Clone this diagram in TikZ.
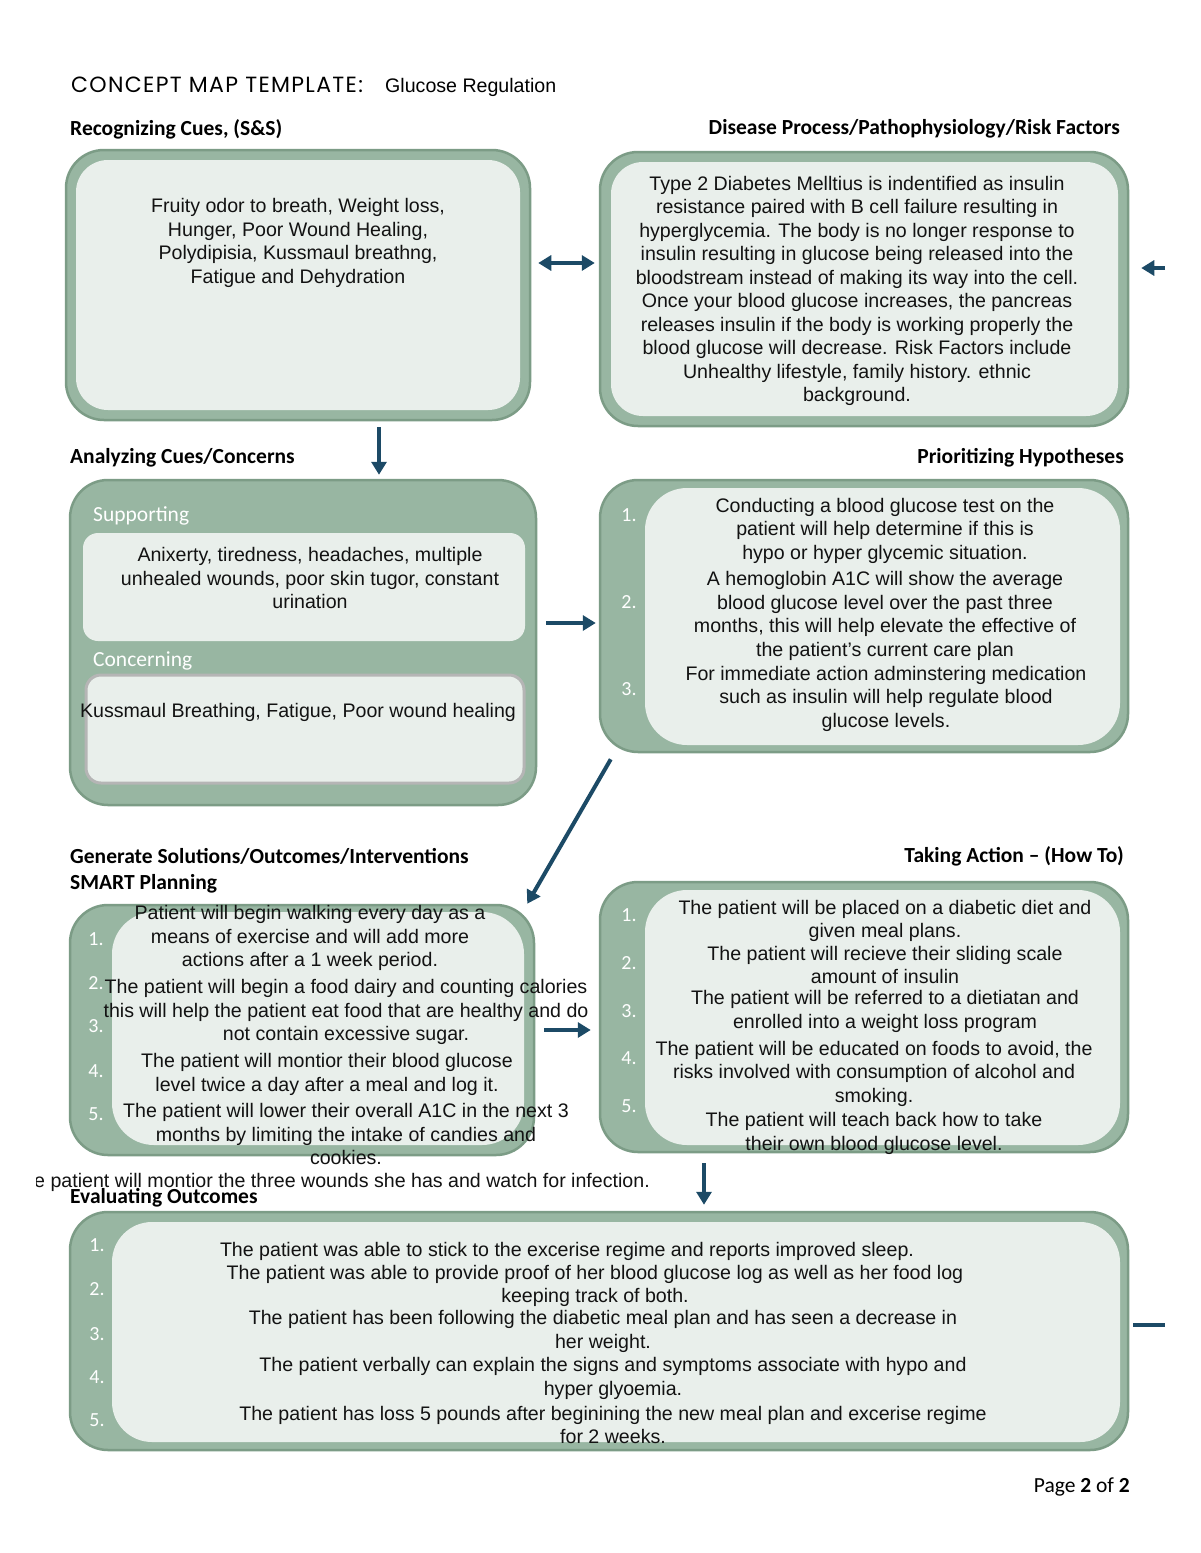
\documentclass[tikz,border=0pt]{standalone}
\usepackage{fontspec}
\setmainfont{Liberation Sans}
\newfontfamily\headfont{Carlito}
\newfontfamily\titlefont[LetterSpace=6]{Poppins}
\usetikzlibrary{arrows.meta}
\definecolor{boxgreen}{HTML}{98B6A2}
\definecolor{boxedge}{HTML}{7C9C86}
\definecolor{boxlight}{HTML}{E9EFEB}
\definecolor{greyedge}{HTML}{B5B5B5}
\definecolor{arrowblue}{HTML}{1C4A66}

\begin{document}
\begin{tikzpicture}[x=1pt,y=-1pt,
    outerbox/.style={draw=boxedge,line width=2.5pt,fill=boxgreen,rounded corners=38pt,inner sep=0pt},
    innerbox/.style={fill=boxlight,rounded corners=32pt,inner sep=0pt},
    panel/.style={fill=boxlight,rounded corners=15pt,inner sep=0pt},
    bodytext/.style={font=\fontsize{19.6}{23.5}\selectfont,align=center,inner sep=0pt,text=black!93},
    headtxt/.style={font=\headfont\bfseries\fontsize{21.5}{24}\selectfont,inner sep=0pt},
    labeltxt/.style={font=\headfont\fontsize{21.5}{24}\selectfont,text=white,inner sep=0pt,anchor=west},
    numtxt/.style={font=\headfont\fontsize{20}{22}\selectfont,text=white,inner sep=0pt},
    link/.style={draw=arrowblue,line width=4pt,-{Triangle[length=13pt,width=15pt]}}]
    \path[fill=white] (0,0) rectangle (1200,1553);
    \useasboundingbox (0,0) rectangle (1200,1553);

    % Title
    \node[font=\titlefont\fontsize{22}{26}\selectfont,anchor=west,inner sep=0pt] (title) at (71,85) {CONCEPT MAP TEMPLATE:};
    \node[font=\fontsize{19.6}{23.5}\selectfont,anchor=west,inner sep=0pt] (topic) at (385,87) {Glucose Regulation};

    % Headings
    \node[headtxt,anchor=west] (h1) at (70,129) {Recognizing Cues, (S\&S)};
    \node[headtxt,anchor=east] (h2) at (1120,129) {Disease Process/Pathophysiology/Risk Factors};
    \node[headtxt,anchor=west] (h3) at (70,458) {Analyzing Cues/Concerns};
    \node[headtxt,anchor=east] (h4) at (1124,458) {Prioritizing Hypotheses};
    \node[headtxt,anchor=west] (h5) at (70,856) {Generate Solutions/Outcomes/Interventions};
    \node[headtxt,anchor=west] (h5b) at (70,884) {SMART Planning};
    \node[headtxt,anchor=east] (h6) at (1124,856) {Taking Action \textendash{} (How To)};

    % Recognizing cues
    \node[outerbox,minimum width=464,minimum height=270] (recog) at (298,285) {};
    \node[innerbox,minimum width=444,minimum height=250] (recogin) at (298,285) {};
    \node[bodytext] (recogtxt) at (298,243) {Fruity odor to breath, Weight loss,\\ Hunger, Poor Wound Healing,\\ Polydipisia, Kussmaul breathng,\\ Fatigue and Dehydration};

    % Disease process
    \node[outerbox,minimum width=528,minimum height=274] (disease) at (864,289) {};
    \node[innerbox,minimum width=507,minimum height=254] (diseasein) at (864.5,289) {};
    \node[bodytext] (diseasetxt) at (857,291) {Type 2 Diabetes Melltius is indentified as insulin\\ resistance paired with B cell failure resulting in\\ hyperglycemia. The body is no longer response to\\ insulin resulting in glucose being released into the\\ bloodstream instead of making its way into the cell.\\ Once your blood glucose increases, the pancreas\\ releases insulin if the body is working properly the\\ blood glucose will decrease. Risk Factors include\\ Unhealthy lifestyle, family history. ethnic\\ background.};

    % Analyzing cues
    \node[outerbox,minimum width=466,minimum height=325] (analyze) at (303,642.5) {};
    \node[labeltxt] (suplabel) at (93,516) {Supporting};
    \node[panel,minimum width=442,minimum height=108] (support) at (304,587) {};
    \node[bodytext] (suptxt) at (310,578) {Anixerty, tiredness, headaches, multiple\\ unhealed wounds, poor skin tugor, constant\\ urination};
    \node[labeltxt] (conlabel) at (93,661) {Concerning};
    \node[panel,draw=greyedge,line width=3pt,minimum width=438,minimum height=108] (concern) at (305,729) {};
    \node[bodytext] (contxt) at (298,712) {Kussmaul Breathing, Fatigue, Poor wound healing};

    % Prioritizing hypotheses
    \node[outerbox,minimum width=528,minimum height=272] (hyp) at (864,616) {};
    \node[innerbox,rounded corners=42pt,minimum width=475,minimum height=257] (hypin) at (882.5,616.5) {};
    \foreach \n/\y in {1/515,2/602,3/689}
        \node[numtxt] (hypnum\n) at (629,\y) {\n.};
    \node[bodytext] (hyp1) at (885,530.5) {Conducting a blood glucose test on the\\ patient will help determine if this is\\ hypo or hyper glycemic situation.};
    \node[bodytext] (hyp2) at (885,616) {A hemoglobin A1C will show the average\\ blood glucose level over the past three\\ months, this will help elevate the effective of\\ the patient's current care plan};
    \node[bodytext] (hyp3) at (886,698.5) {For immediate action adminstering medication\\ such as insulin will help regulate blood\\ glucose levels.};

    % SMART planning
    \node[outerbox,minimum width=464,minimum height=250] (smart) at (302,1030) {};
    \node[innerbox,rounded corners=42pt,minimum width=412,minimum height=233] (smartin) at (318,1028.5) {};
    \foreach \n/\y in {1/939,2/983,3/1026,4/1071,5/1114}
        \node[numtxt] (plannum\n) at (96,\y) {\n.};
    \node[bodytext] (plan1) at (310,938) {Patient will begin walking every day as a\\ means of exercise and will add more\\ actions after a 1 week period.};
    \node[bodytext] (plan2) at (346,1012) {The patient will begin a food dairy and counting calories\\ this will help the patient eat food that are healthy and do\\ not contain excessive sugar.};
    \node[bodytext] (plan3) at (327,1074.5) {The patient will montior their blood glucose\\ level twice a day after a meal and log it.};
    \node[bodytext] (plan4) at (346,1134) {The patient will lower their overall A1C in the next 3\\ months by limiting the intake of candies and\\ cookies.};
    \begin{scope}
        \clip (36,1168) rectangle (700,1198);
        \node[bodytext,anchor=east] (plan5) at (650,1182) {The patient will montior the three wounds she has and watch for infection.};
    \end{scope}

    % Taking action
    \node[outerbox,minimum width=528,minimum height=270] (action) at (864,1017) {};
    \node[innerbox,rounded corners=42pt,minimum width=475,minimum height=255] (actionin) at (882.5,1017.5) {};
    \foreach \n/\y in {1/915,2/963,3/1011,4/1058,5/1106}
        \node[numtxt] (actnum\n) at (629,\y) {\n.};
    \node[bodytext] (act1) at (885,921) {The patient will be placed on a diabetic diet and\\ given meal plans.};
    \node[bodytext] (act2) at (885,965) {The patient will recieve their sliding scale\\ amount of insulin};
    \node[bodytext] (act3) at (885,1011.5) {The patient will be referred to a dietiatan and\\ enrolled into a weight loss program};
    \node[bodytext] (act4) at (874,1073.5) {The patient will be educated on foods to avoid, the\\ risks involved with consumption of alcohol and\\ smoking.};
    \node[bodytext] (act5) at (874,1133.5) {The patient will teach back how to take\\ their own blood glucose level.};

    % Evaluating outcomes
    \node[headtxt,anchor=west] (h7) at (70,1198) {Evaluating Outcomes};
    \node[outerbox,minimum width=1058,minimum height=238] (eval) at (599,1331) {};
    \node[innerbox,rounded corners=40pt,minimum width=1008,minimum height=220] (evalin) at (616,1332) {};
    \foreach \n/\y in {1/1245,2/1289,3/1334,4/1377,5/1420}
        \node[numtxt] (evalnum\n) at (97,\y) {\n.};
    \node[bodytext] (eval1) at (567,1251) {The patient was able to stick to the excerise regime and reports improved sleep.};
    \node[bodytext] (eval2) at (595,1286) {The patient was able to provide proof of her blood glucose log as well as her food log\\ keeping track of both.};
    \node[bodytext] (eval3) at (603,1331.5) {The patient has been following the diabetic meal plan and has seen a decrease in\\ her weight.};
    \node[bodytext] (eval4) at (613,1378.5) {The patient verbally can explain the signs and symptoms associate with hypo and\\ hyper glyoemia.};
    \node[bodytext] (eval5) at (613,1425) {The patient has loss 5 pounds after beginining the new meal plan and excerise regime\\ for 2 weeks.};

    % Page number
    \node[font=\headfont\fontsize{21.5}{24}\selectfont,anchor=east,inner sep=0pt] (page) at (1130,1487) {Page \textbf{2} of \textbf{2}};

    % Arrows
    \coordinate (sidein) at (1165,268);
    \coordinate (sideout) at (1165,1325);
    \draw[link,{Triangle[length=13pt,width=15pt]}-{Triangle[length=13pt,width=15pt]}] ([shift={(7,-22)}]recog.east) -- ([shift={(-4,-26)}]disease.west);
    \draw[link] (sidein) -- ([shift={(12,-21)}]disease.east);
    \draw[link] ([shift={(81,6)}]recog.south) -- ([shift={(76,-4)}]analyze.north);
    \draw[link] ([shift={(9,-19.5)}]analyze.east) -- ([shift={(-3,7)}]hyp.west);
    \draw[link] ([shift={(12,6)}]hyp.south west) -- ([shift={(-8,0)}]smart.north east);
    \draw[link] ([shift={(9,0)}]smart.east) -- ([shift={(-8,13)}]action.west);
    \draw[link] ([shift={(-160,10)}]action.south) -- ([shift={(105,-6)}]eval.north);
    \draw[link,-] ([shift={(4,-6)}]eval.east) -- (sideout);
\end{tikzpicture}
\end{document}
